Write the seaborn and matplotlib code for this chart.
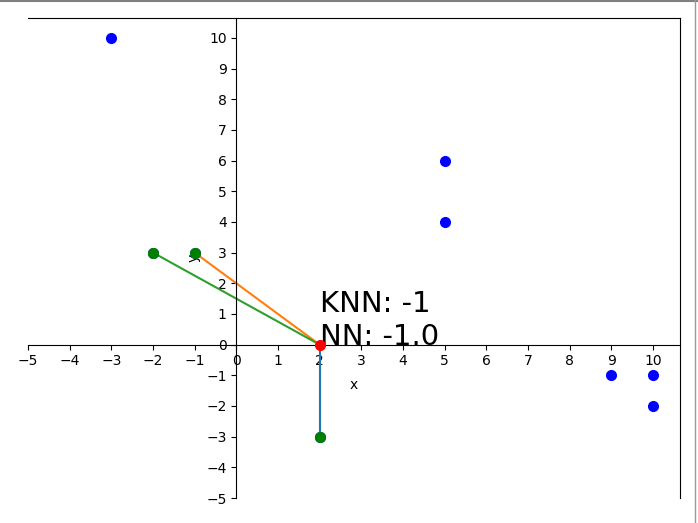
import numpy as np
import pandas as pd
import matplotlib
matplotlib.use("Agg")
import matplotlib.pyplot as plt
from matplotlib.lines import Line2D
import seaborn as sns

# training points (all drawn blue), neighbours (green), query (red)
pts_x = [-3, 5, 5, 9, 10, 10, -2, -1, 2]
pts_y = [10, 6, 4, -1, -1, -2, 3, 3, -3]
nb_x = [2, -1, -2]
nb_y = [-3, 3, 3]
query = (2, 0)
knn_label = -1
nn_label = -1.0
ticks = list(range(-5, 11))


def main():
    fig = plt.figure(figsize=(6.98, 5.23), dpi=100)
    ax = fig.add_axes([28 / 698, 25 / 523, 652 / 698, 480 / 523])

    pts = pd.DataFrame({"x": pts_x, "y": pts_y})
    nbs = pd.DataFrame({"x": nb_x, "y": nb_y})

    # lines from query to each neighbour, default colour cycle
    for x, y in zip(nb_x, nb_y):
        ax.plot([query[0], x], [query[1], y])

    sns.scatterplot(data=pts, x="x", y="y", color="blue", s=64,
                    linewidth=0, ax=ax, zorder=3)
    sns.scatterplot(data=nbs, x="x", y="y", color="green", s=64,
                    linewidth=0, ax=ax, zorder=4)
    sns.scatterplot(x=[query[0]], y=[query[1]], color="red", s=64,
                    linewidth=0, ax=ax, zorder=5)

    ax.text(query[0], query[1], f"KNN: {knn_label}\nNN: {nn_label}",
            fontsize=21)

    ax.spines["left"].set_position("zero")
    ax.spines["bottom"].set_position("zero")
    ax.set_xticks(ticks)
    ax.set_yticks(ticks)
    ax.set_xlim(-5, 10.65)
    ax.set_ylim(-5, 10.65)
    ax.set_xlabel("x", labelpad=7)
    ax.set_ylabel("y")

    # window frame from the screenshot
    fig.add_artist(Line2D([0, 1], [0.998, 0.998], color="0.5", lw=1.5))
    fig.add_artist(Line2D([0.9955, 0.9955], [0, 1], color="0.6", lw=1))

    fig.savefig("out.png", dpi=100)


if __name__ == "__main__":
    main()
